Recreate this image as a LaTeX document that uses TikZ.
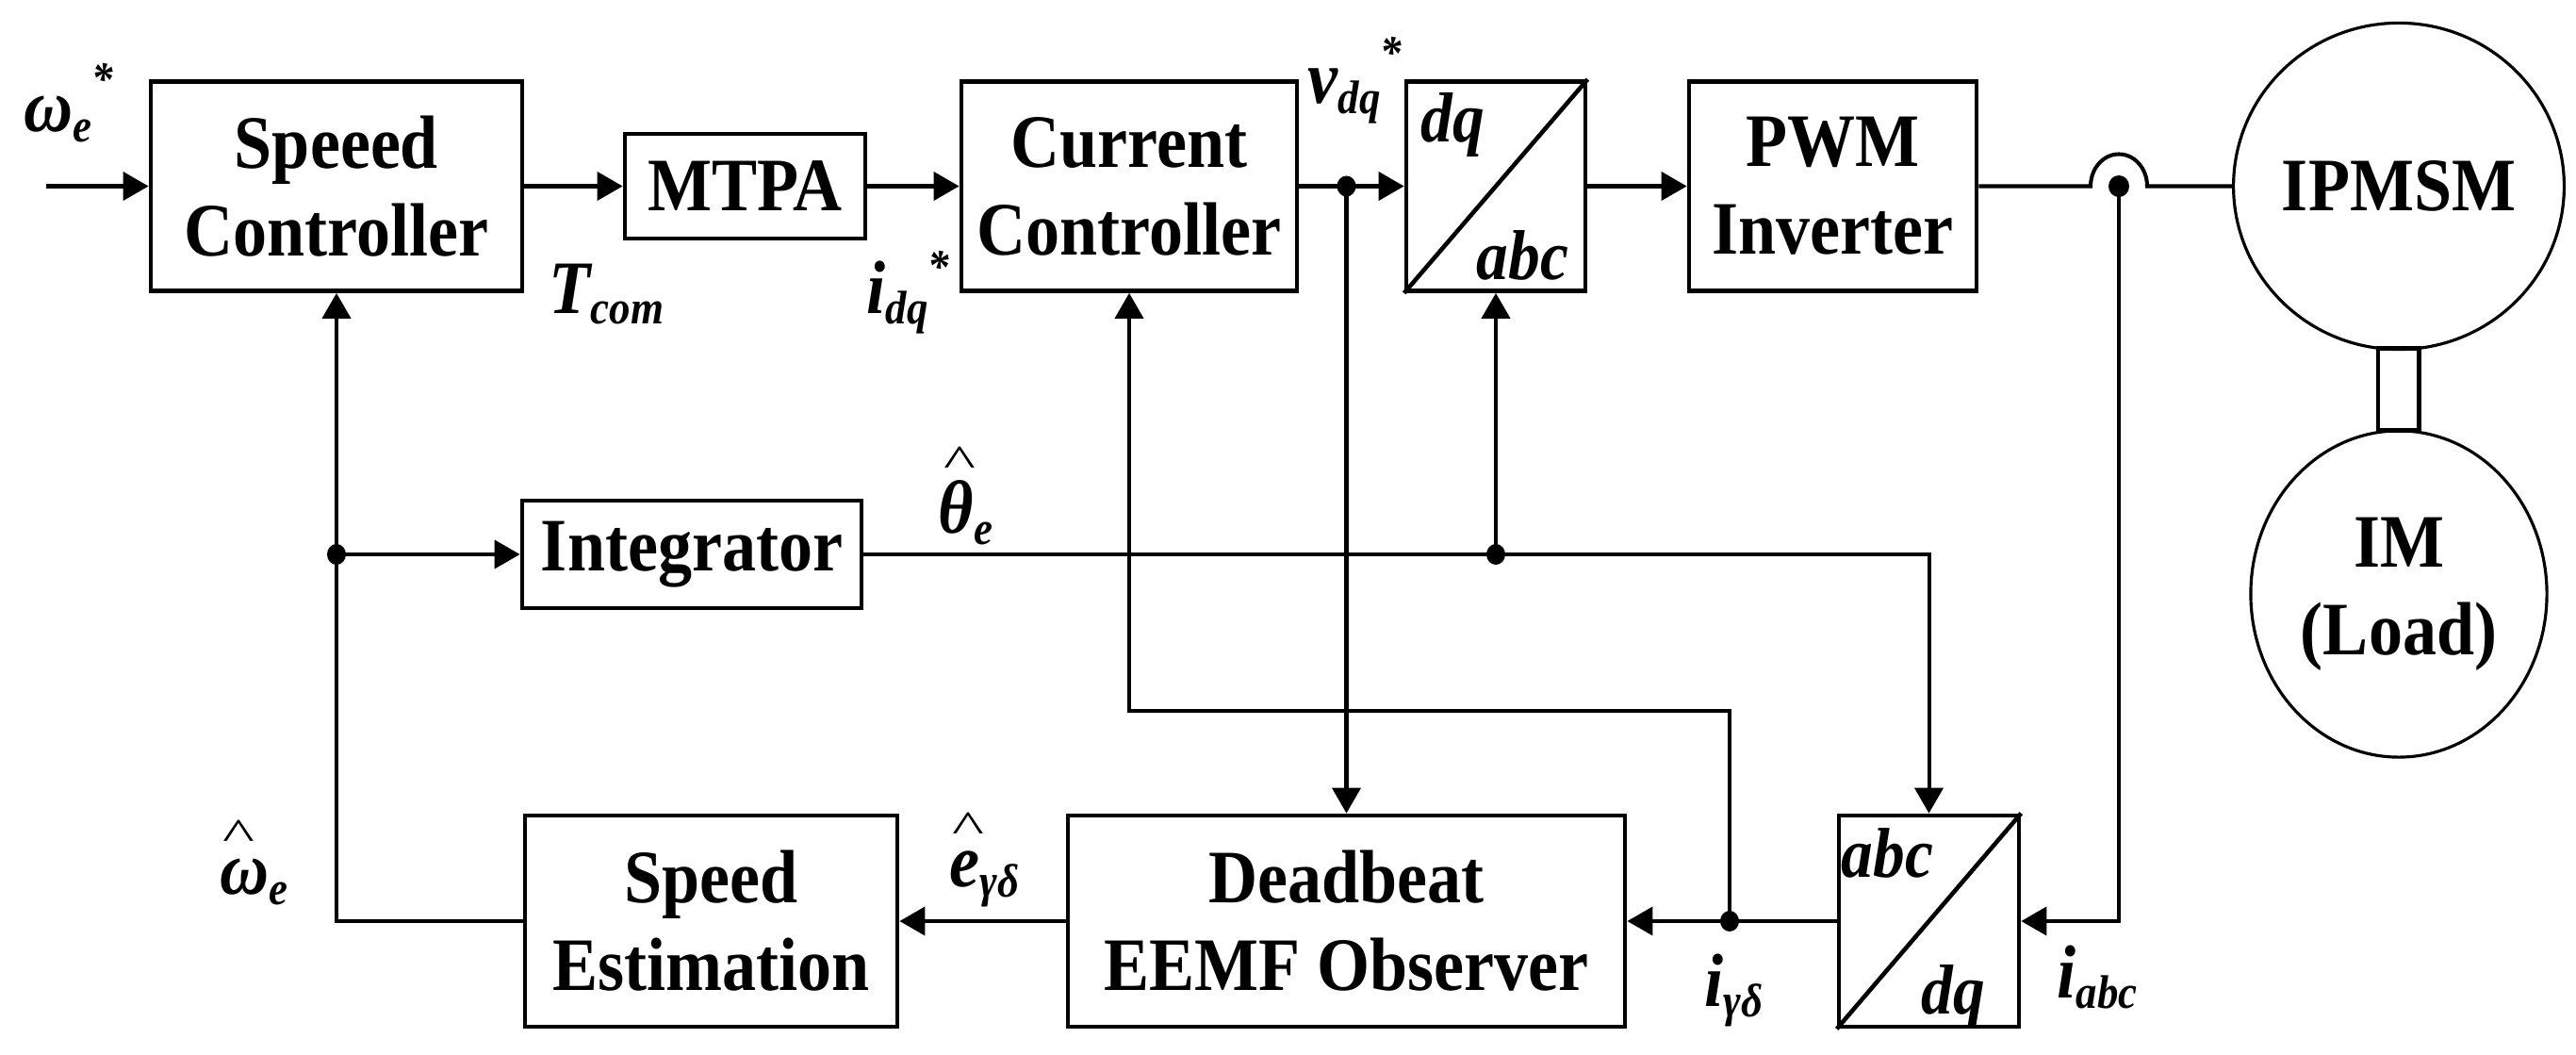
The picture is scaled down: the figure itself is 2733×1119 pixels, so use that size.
\documentclass[tikz,border=0pt]{standalone}
\usepackage{fontspec}
\setmainfont{Liberation Serif}[FakeStretch=0.9]
\usetikzlibrary{arrows.meta,shapes.geometric}
\newcommand\boxfont{\fontsize{22.76}{26.5}\selectfont\bfseries}
\newcommand\labfont{\fontsize{22.76}{27}\selectfont\bfseries\itshape}
\newcommand\tfont{\fontsize{21.3}{25}\selectfont\bfseries\itshape}
\newcommand\sbx[1]{\raisebox{-0.11cm}{\fontsize{14.2}{16}\selectfont #1}}
\newcommand\stx[1]{\raisebox{#1}{\fontsize{14.2}{16}\selectfont *}}
\newcommand\hatc{{\fontsize{22.76}{27}\selectfont\mdseries\upshape\scalebox{1}[0.6]{\textasciicircum}}}
\newcommand\hatx[2]{\makebox[0pt][l]{\hspace{#1}\raisebox{#2}[0pt][0pt]{\hatc}}}
\begin{document}
\begin{tikzpicture}[x=0.01cm,y=-0.01cm,
 blk/.style={draw, line width=1.3pt, inner sep=0pt, align=center, font=\boxfont},
 mot/.style={ellipse, draw, line width=0.9pt, minimum width=3.14cm, minimum height=3.46cm, inner sep=0pt, align=center, font=\boxfont},
 conn/.style={line width=1.15pt},
 arr/.style={conn, -{Triangle[length=0.27cm,width=0.30cm]}},
 lab/.style={inner sep=0pt, anchor=base west, font=\labfont},
 tlab/.style={inner sep=0pt, font=\tfont},
 jdot/.style={fill=black}
]
\useasboundingbox (0,0) rectangle (2733,1119);
% blocks
\node[blk, minimum width=3.94cm, minimum height=2.22cm] (sc) at (357,197.5) {Speeed\\Controller};
\node[blk, minimum width=2.55cm, minimum height=1.11cm] (mtpa) at (790.5,197.5) {MTPA};
\node[blk, minimum width=3.56cm, minimum height=2.22cm] (cc) at (1198,197.5) {Current\\Controller};
\node[blk, minimum width=1.90cm, minimum height=2.22cm] (t1) at (1587,197.5) {};
\node[blk, minimum width=3.05cm, minimum height=2.22cm] (pwm) at (1944.5,197.5) {PWM\\Inverter};
\node[mot] (pm) at (2545,197.5) {IPMSM};
\node[mot] (im) at (2545,630) {IM\\(Load)};
\node[draw, line width=1.4pt, minimum width=0.43cm, minimum height=0.87cm, inner sep=0pt] (shaft) at (2544.5,413) {};
\node[blk, minimum width=3.60cm, minimum height=1.14cm] (int) at (734,588) {Integrator};
\node[blk, minimum width=3.95cm, minimum height=2.24cm] (se) at (754.5,977) {Speed\\Estimation};
\node[blk, minimum width=5.91cm, minimum height=2.24cm] (db) at (1428.5,977) {Deadbeat\\EEMF Observer};
\node[blk, minimum width=1.91cm, minimum height=2.24cm] (t2) at (2046.5,977) {};
% transform diagonals and texts
\draw[line width=1.3pt] (t1.south west) -- (t1.north east);
\draw[line width=1.3pt] (t2.south west) -- (t2.north east);
\node[tlab, anchor=base west] (t1a) at (1507,151) {dq};
\node[tlab, anchor=base east] (t1b) at (1665,297) {abc};
\node[tlab, anchor=base west] (t2a) at (1953,930) {abc};
\node[tlab, anchor=base west] (t2b) at (2038,1075) {dq};
% connectors
\coordinate (in) at (49,197.5);
\draw[arr] (in) -- (sc.west);
\draw[arr] (sc.east) -- (mtpa.west);
\draw[arr] (mtpa.east) -- (cc.west);
\draw[arr] (cc.east) -- (t1.west);
\draw[arr] (t1.east) -- (pwm.west);
\coordinate (j1) at (db.north |- cc.east);
\draw[arr] (j1) -- (db.north);
\fill[jdot] (j1) ellipse[x radius=0.1cm, y radius=0.11cm];
\coordinate (hp) at (2248,197.5);
\draw[conn] (pwm.east) -- ([shift={(-30,0)}]hp)
  .. controls ([shift={(-30,-18.8)}]hp) and ([shift={(-16.6,-34)}]hp) .. ([shift={(0,-34)}]hp)
  .. controls ([shift={(16.6,-34)}]hp) and ([shift={(30,-18.8)}]hp) .. ([shift={(30,0)}]hp)
  -- (pm.west);
\draw[arr] (hp) |- (t2.east);
\fill[jdot] (hp) ellipse[x radius=0.11cm, y radius=0.115cm];
\draw[arr] (t2.west) -- (db.east);
\coordinate (j4) at (1835,977);
\coordinate (k1) at (1835,754);
\draw[arr] (j4) -- (k1) -| (cc.south);
\fill[jdot] (j4) ellipse[x radius=0.1cm, y radius=0.11cm];
\draw[arr] (int.east) -| (t2.north);
\coordinate (j3) at (t1.south |- int.east);
\draw[arr] (j3) -- (t1.south);
\fill[jdot] (j3) ellipse[x radius=0.1cm, y radius=0.11cm];
\draw[arr] (db.west) -- (se.east);
\draw[arr] (se.west) -| (sc.south);
\coordinate (j2) at (sc.south |- int.west);
\draw[arr] (j2) -- (int.west);
\fill[jdot] (j2) ellipse[x radius=0.1cm, y radius=0.11cm];
% labels
\node[lab] (lw) at (25,140) {ω\sbx{e}\stx{0.39cm}};
\node[lab] (lt) at (582,333) {T\sbx{com}};
\node[lab] (li) at (919,333) {i\sbx{dq}\stx{0.33cm}};
\node[lab] (lv) at (1387,110) {v\sbx{dq}\stx{0.37cm}};
\node[lab] (lth) at (995,566) {\hatx{0.06cm}{0.60cm}θ\sbx{e}};
\node[lab] (lwh) at (233,948) {\hatx{0.03cm}{0.46cm}ω\sbx{e}};
\node[lab] (le) at (1007,940) {\hatx{0.03cm}{0.46cm}e\sbx{γδ}};
\node[lab] (lig) at (1808,1067) {i\sbx{γδ}};
\node[lab] (lia) at (2182,1058) {i\sbx{abc}};
\end{tikzpicture}
\end{document}
